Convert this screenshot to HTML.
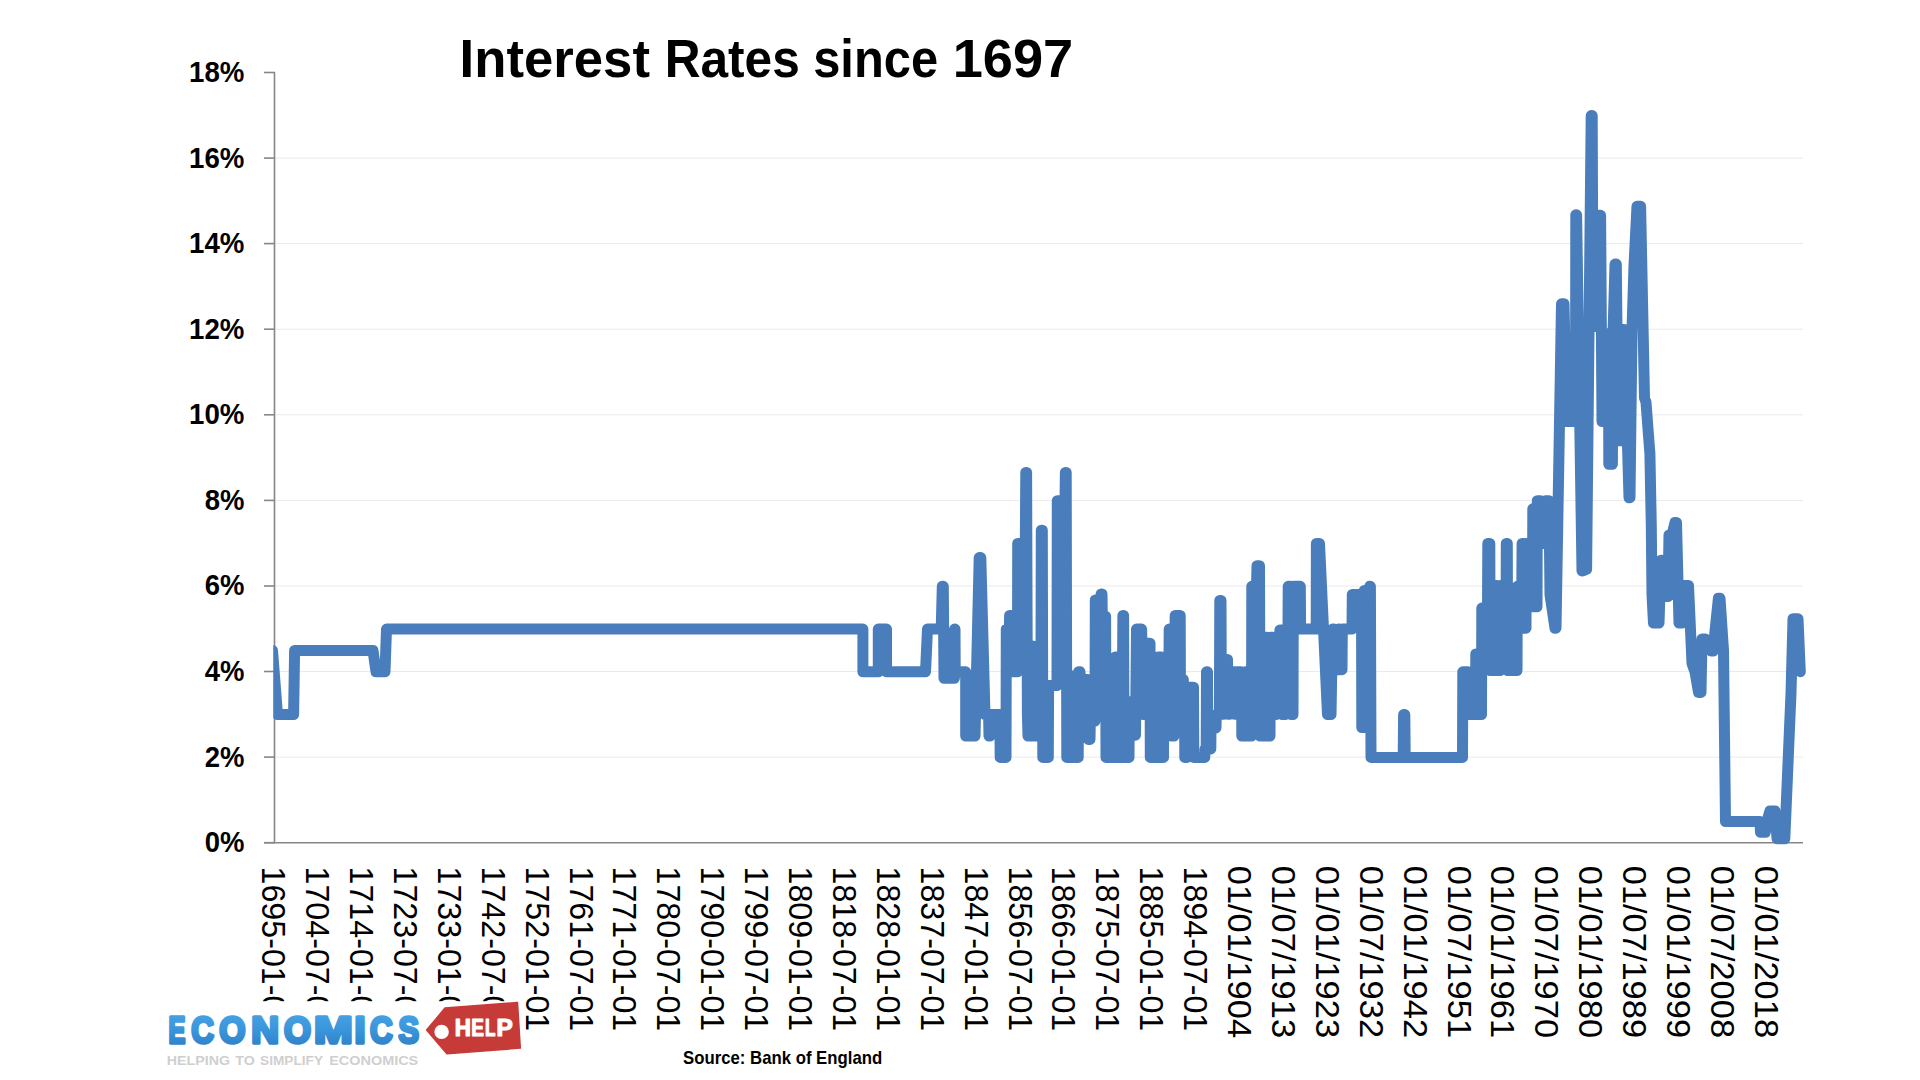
<!DOCTYPE html>
<html><head><meta charset="utf-8"><title>Interest Rates since 1697</title><style>
html,body{margin:0;padding:0;background:#fff;}
body{width:1920px;height:1080px;overflow:hidden;position:relative;}
svg{position:absolute;left:0;top:0;}
</style></head><body>
<svg width="1920" height="1080" viewBox="0 0 1920 1080">
<rect width="1920" height="1080" fill="#fff"/>
<g stroke="#eaeaec" stroke-width="1"><line x1="275" y1="757.1" x2="1803" y2="757.1"/><line x1="275" y1="671.5" x2="1803" y2="671.5"/><line x1="275" y1="586.0" x2="1803" y2="586.0"/><line x1="275" y1="500.4" x2="1803" y2="500.4"/><line x1="275" y1="414.8" x2="1803" y2="414.8"/><line x1="275" y1="329.2" x2="1803" y2="329.2"/><line x1="275" y1="243.6" x2="1803" y2="243.6"/><line x1="275" y1="158.1" x2="1803" y2="158.1"/></g>
<g stroke="#868686" stroke-width="1.6"><line x1="264" y1="842.7" x2="275" y2="842.7"/><line x1="264" y1="757.1" x2="275" y2="757.1"/><line x1="264" y1="671.5" x2="275" y2="671.5"/><line x1="264" y1="586.0" x2="275" y2="586.0"/><line x1="264" y1="500.4" x2="275" y2="500.4"/><line x1="264" y1="414.8" x2="275" y2="414.8"/><line x1="264" y1="329.2" x2="275" y2="329.2"/><line x1="264" y1="243.6" x2="275" y2="243.6"/><line x1="264" y1="158.1" x2="275" y2="158.1"/><line x1="264" y1="72.5" x2="275" y2="72.5"/><line x1="274.5" y1="72.4" x2="274.5" y2="842.7"/><line x1="264" y1="842.7" x2="1803" y2="842.7"/></g>
<clipPath id="pc"><rect x="273.3" y="60" width="1560" height="800"/></clipPath>
<polyline clip-path="url(#pc)" points="272.5,650.1 277.5,714.3 293.6,714.3 294.6,650.1 373.0,650.1 376.0,671.5 385.0,671.5 386.5,628.8 862.9,628.8 862.9,671.5 878.3,671.5 878.3,628.8 886.5,628.8 886.5,671.5 925.5,671.5 927.5,628.8 941.2,628.8 942.3,586.0 943.3,586.0 944.0,678.0 954.4,678.0 954.6,628.8 955.0,628.8 955.2,671.5 965.7,671.5 965.7,735.7 975.0,735.7 979.2,557.3 980.8,557.3 985.0,714.3 988.6,714.3 989.0,735.7 990.0,735.7 990.4,714.3 999.8,714.3 1000.2,757.1 1006.0,757.1 1006.3,628.8 1009.4,628.8 1009.6,615.1 1011.5,615.1 1011.8,671.5 1017.5,671.5 1017.7,543.2 1025.3,543.2 1025.8,472.1 1026.6,472.1 1027.4,714.3 1028.0,735.7 1032.5,735.7 1032.8,645.9 1034.0,645.9 1034.3,735.7 1040.8,735.7 1041.3,529.9 1042.3,529.9 1042.8,757.1 1048.3,757.1 1048.6,685.2 1057.0,685.2 1057.3,500.4 1065.0,500.4 1065.4,472.1 1066.2,472.1 1066.8,757.1 1071.0,757.1 1071.3,675.8 1072.5,675.8 1072.8,757.1 1078.2,757.1 1078.5,671.5 1080.0,671.5 1080.5,679.2 1088.0,679.2 1088.4,739.1 1090.0,739.1 1090.3,720.7 1095.0,720.7 1095.3,599.7 1100.8,599.7 1101.1,593.7 1102.0,593.7 1102.3,615.9 1105.6,615.9 1106.0,757.1 1109.0,757.1 1109.3,675.8 1112.0,675.8 1112.3,757.1 1115.0,757.1 1115.3,656.6 1118.5,656.6 1118.8,757.1 1120.5,757.1 1120.8,656.6 1122.6,656.6 1122.9,615.1 1123.6,615.1 1124.0,757.1 1129.0,757.1 1129.3,701.5 1131.5,701.5 1131.8,734.9 1135.5,734.9 1136.5,628.8 1141.6,628.8 1141.9,642.9 1143.0,642.9 1143.3,714.3 1145.5,714.3 1145.8,642.9 1150.0,642.9 1150.3,757.1 1152.0,757.1 1152.3,656.6 1155.0,656.6 1155.3,757.1 1158.0,757.1 1158.3,656.6 1161.0,656.6 1161.3,757.1 1163.5,757.1 1163.8,656.6 1169.0,656.6 1169.2,628.8 1171.0,628.8 1171.3,735.7 1174.0,735.7 1174.3,628.8 1175.0,628.8 1175.2,615.1 1180.2,615.1 1180.4,679.2 1183.3,679.2 1183.5,686.9 1184.5,686.9 1184.8,757.1 1187.0,757.1 1187.3,686.9 1193.5,686.9 1193.8,757.1 1204.8,757.1 1205.0,748.6 1206.2,748.6 1206.5,671.5 1207.5,671.5 1207.8,748.6 1210.8,748.6 1211.0,727.6 1216.0,727.6 1216.3,714.3 1219.4,714.3 1219.8,600.1 1221.0,600.1 1221.4,713.9 1224.0,713.9 1224.3,659.1 1227.5,659.1 1227.8,713.9 1230.0,713.9 1230.3,671.5 1234.0,671.5 1234.3,713.9 1236.0,713.9 1236.3,671.5 1241.5,671.5 1241.8,735.7 1245.0,735.7 1245.3,671.5 1246.5,671.5 1246.8,735.7 1251.5,735.7 1251.8,586.0 1256.5,586.0 1257.0,565.4 1259.5,565.4 1260.0,735.7 1264.0,735.7 1264.3,636.9 1267.0,636.9 1267.3,735.7 1270.0,735.7 1270.3,636.9 1273.0,636.9 1273.3,714.3 1276.0,714.3 1276.3,636.9 1279.6,636.9 1279.9,629.6 1282.0,629.6 1282.3,714.3 1285.0,714.3 1285.3,629.6 1288.0,629.6 1288.2,586.0 1291.0,586.0 1291.3,714.3 1293.0,714.3 1293.3,586.0 1300.3,586.0 1300.6,628.8 1316.2,628.8 1316.4,543.2 1319.5,543.2 1327.5,714.3 1331.0,714.3 1332.5,628.8 1334.0,628.8 1334.5,669.4 1338.0,669.4 1338.3,628.8 1339.5,628.8 1339.8,669.4 1342.0,669.4 1342.3,628.8 1352.0,628.8 1352.3,594.1 1361.5,594.1 1361.8,727.2 1364.0,727.2 1364.3,590.2 1369.4,590.2 1369.7,586.0 1370.4,586.0 1371.0,757.1 1403.2,757.1 1403.6,714.3 1404.8,714.3 1405.2,757.1 1462.5,757.1 1462.8,671.5 1468.0,671.5 1468.3,714.3 1475.5,714.3 1475.8,653.6 1478.0,653.6 1478.3,714.3 1481.5,714.3 1481.8,607.8 1487.5,607.8 1487.8,543.2 1489.8,543.2 1490.1,670.3 1493.5,670.3 1493.8,585.1 1497.0,585.1 1497.3,670.3 1500.0,670.3 1500.3,585.1 1503.0,585.1 1503.3,648.0 1506.0,648.0 1506.3,543.2 1507.3,543.2 1507.6,670.3 1511.0,670.3 1511.3,594.5 1514.0,594.5 1514.3,670.3 1517.0,670.3 1517.3,586.0 1521.8,586.0 1522.1,543.2 1523.5,543.2 1523.8,627.9 1526.0,627.9 1526.3,543.2 1530.0,543.2 1530.3,606.5 1532.5,606.5 1532.8,508.5 1535.0,508.5 1535.3,606.5 1537.0,606.5 1537.3,500.4 1540.5,500.4 1540.8,543.2 1545.0,543.2 1545.3,500.4 1549.0,500.4 1550.0,594.5 1555.0,627.9 1556.0,627.9 1561.5,303.5 1564.0,303.5 1566.5,421.2 1575.5,421.2 1575.8,214.5 1576.6,214.5 1582.0,570.6 1582.5,570.6 1586.6,568.8 1591.2,115.3 1592.2,115.3 1593.0,326.2 1597.0,326.2 1598.0,215.0 1600.6,215.0 1602.0,421.2 1604.0,421.2 1604.5,333.5 1608.5,333.5 1608.8,464.0 1612.4,464.0 1613.0,333.5 1615.0,263.8 1616.3,263.8 1617.0,329.2 1620.0,440.5 1621.0,329.2 1624.3,329.2 1626.0,393.4 1629.0,497.4 1630.0,497.4 1632.0,329.2 1634.0,265.0 1637.0,206.0 1640.6,206.0 1644.5,397.7 1646.0,402.0 1649.9,453.3 1651.3,526.1 1652.0,594.5 1653.5,622.8 1659.0,622.8 1661.0,559.9 1662.0,559.9 1664.0,596.2 1668.0,596.2 1669.0,534.6 1672.0,534.6 1675.0,522.2 1676.5,522.2 1679.0,622.8 1682.0,622.8 1684.0,585.1 1688.5,585.1 1692.0,663.0 1695.0,671.5 1698.5,692.1 1701.0,692.1 1702.0,638.6 1705.0,638.6 1707.0,645.9 1711.0,650.6 1713.0,650.6 1718.4,597.9 1720.0,597.9 1723.5,650.1 1725.5,821.3 1760.0,821.3 1760.5,832.0 1765.3,832.0 1767.5,819.2 1769.9,810.6 1775.0,810.6 1777.0,838.4 1784.8,838.4 1791.0,692.9 1793.0,618.5 1798.0,618.5 1800.3,671.5" fill="none" stroke="#4a7dbb" stroke-width="11" transform="translate(0,0.3)" stroke-linejoin="round" stroke-linecap="round"/>
<g font-family="Liberation Sans" font-weight="bold" font-size="29" text-anchor="end" fill="#000"><text x="244.4" y="852.1" textLength="39.7" lengthAdjust="spacingAndGlyphs">0%</text><text x="244.4" y="766.5" textLength="39.7" lengthAdjust="spacingAndGlyphs">2%</text><text x="244.4" y="680.9" textLength="39.7" lengthAdjust="spacingAndGlyphs">4%</text><text x="244.4" y="595.4" textLength="39.7" lengthAdjust="spacingAndGlyphs">6%</text><text x="244.4" y="509.8" textLength="39.7" lengthAdjust="spacingAndGlyphs">8%</text><text x="244.4" y="424.2" textLength="55.3" lengthAdjust="spacingAndGlyphs">10%</text><text x="244.4" y="338.6" textLength="55.3" lengthAdjust="spacingAndGlyphs">12%</text><text x="244.4" y="253.0" textLength="55.3" lengthAdjust="spacingAndGlyphs">14%</text><text x="244.4" y="167.5" textLength="55.3" lengthAdjust="spacingAndGlyphs">16%</text><text x="244.4" y="81.9" textLength="55.3" lengthAdjust="spacingAndGlyphs">18%</text></g>
<g font-family="Liberation Sans" font-size="33" fill="#000"><text transform="translate(262.2,866.55) rotate(90)" textLength="164.7" lengthAdjust="spacingAndGlyphs">1695-01-01</text><text transform="translate(306.1,866.55) rotate(90)" textLength="164.7" lengthAdjust="spacingAndGlyphs">1704-07-01</text><text transform="translate(350.0,866.55) rotate(90)" textLength="164.7" lengthAdjust="spacingAndGlyphs">1714-01-01</text><text transform="translate(393.9,866.55) rotate(90)" textLength="164.7" lengthAdjust="spacingAndGlyphs">1723-07-01</text><text transform="translate(437.8,866.55) rotate(90)" textLength="164.7" lengthAdjust="spacingAndGlyphs">1733-01-01</text><text transform="translate(481.7,866.55) rotate(90)" textLength="164.7" lengthAdjust="spacingAndGlyphs">1742-07-01</text><text transform="translate(525.6,866.55) rotate(90)" textLength="164.7" lengthAdjust="spacingAndGlyphs">1752-01-01</text><text transform="translate(569.5,866.55) rotate(90)" textLength="164.7" lengthAdjust="spacingAndGlyphs">1761-07-01</text><text transform="translate(613.4,866.55) rotate(90)" textLength="164.7" lengthAdjust="spacingAndGlyphs">1771-01-01</text><text transform="translate(657.3,866.55) rotate(90)" textLength="164.7" lengthAdjust="spacingAndGlyphs">1780-07-01</text><text transform="translate(701.2,866.55) rotate(90)" textLength="164.7" lengthAdjust="spacingAndGlyphs">1790-01-01</text><text transform="translate(745.1,866.55) rotate(90)" textLength="164.7" lengthAdjust="spacingAndGlyphs">1799-07-01</text><text transform="translate(789.0,866.55) rotate(90)" textLength="164.7" lengthAdjust="spacingAndGlyphs">1809-01-01</text><text transform="translate(832.9,866.55) rotate(90)" textLength="164.7" lengthAdjust="spacingAndGlyphs">1818-07-01</text><text transform="translate(876.8,866.55) rotate(90)" textLength="164.7" lengthAdjust="spacingAndGlyphs">1828-01-01</text><text transform="translate(920.7,866.55) rotate(90)" textLength="164.7" lengthAdjust="spacingAndGlyphs">1837-07-01</text><text transform="translate(964.6,866.55) rotate(90)" textLength="164.7" lengthAdjust="spacingAndGlyphs">1847-01-01</text><text transform="translate(1008.5,866.55) rotate(90)" textLength="164.7" lengthAdjust="spacingAndGlyphs">1856-07-01</text><text transform="translate(1052.4,866.55) rotate(90)" textLength="164.7" lengthAdjust="spacingAndGlyphs">1866-01-01</text><text transform="translate(1096.3,866.55) rotate(90)" textLength="164.7" lengthAdjust="spacingAndGlyphs">1875-07-01</text><text transform="translate(1140.2,866.55) rotate(90)" textLength="164.7" lengthAdjust="spacingAndGlyphs">1885-01-01</text><text transform="translate(1184.1,866.55) rotate(90)" textLength="164.7" lengthAdjust="spacingAndGlyphs">1894-07-01</text><text transform="translate(1228.0,865.75) rotate(90)" textLength="172.3" lengthAdjust="spacingAndGlyphs">01/01/1904</text><text transform="translate(1271.9,865.75) rotate(90)" textLength="172.3" lengthAdjust="spacingAndGlyphs">01/07/1913</text><text transform="translate(1315.8,865.75) rotate(90)" textLength="172.3" lengthAdjust="spacingAndGlyphs">01/01/1923</text><text transform="translate(1359.7,865.75) rotate(90)" textLength="172.3" lengthAdjust="spacingAndGlyphs">01/07/1932</text><text transform="translate(1403.6,865.75) rotate(90)" textLength="172.3" lengthAdjust="spacingAndGlyphs">01/01/1942</text><text transform="translate(1447.5,865.75) rotate(90)" textLength="172.3" lengthAdjust="spacingAndGlyphs">01/07/1951</text><text transform="translate(1491.4,865.75) rotate(90)" textLength="172.3" lengthAdjust="spacingAndGlyphs">01/01/1961</text><text transform="translate(1535.3,865.75) rotate(90)" textLength="172.3" lengthAdjust="spacingAndGlyphs">01/07/1970</text><text transform="translate(1579.2,865.75) rotate(90)" textLength="172.3" lengthAdjust="spacingAndGlyphs">01/01/1980</text><text transform="translate(1623.1,865.75) rotate(90)" textLength="172.3" lengthAdjust="spacingAndGlyphs">01/07/1989</text><text transform="translate(1667.0,865.75) rotate(90)" textLength="172.3" lengthAdjust="spacingAndGlyphs">01/01/1999</text><text transform="translate(1710.9,865.75) rotate(90)" textLength="172.3" lengthAdjust="spacingAndGlyphs">01/07/2008</text><text transform="translate(1754.8,865.75) rotate(90)" textLength="172.3" lengthAdjust="spacingAndGlyphs">01/01/2018</text></g>
<g font-family="Liberation Sans" font-weight="bold" font-size="54.5" fill="#000"><text x="459.57" y="76.8" textLength="190.37" lengthAdjust="spacingAndGlyphs">Interest</text><text x="664.68" y="76.8" textLength="135.05" lengthAdjust="spacingAndGlyphs">Rates</text><text x="813.18" y="76.8" textLength="124.89" lengthAdjust="spacingAndGlyphs">since</text><text x="952.69" y="76.8" textLength="120.49" lengthAdjust="spacingAndGlyphs">1697</text></g>
<text x="683.12" y="1063.8" font-family="Liberation Sans" font-weight="bold" font-size="18.6" textLength="199.04" lengthAdjust="spacingAndGlyphs" fill="#000">Source: Bank of England</text>
<rect x="150" y="1001.2" width="373" height="79" fill="#fff"/>
<defs><linearGradient id="bg" x1="0" y1="0" x2="0" y2="1"><stop offset="0" stop-color="#48a6e6"/><stop offset="0.55" stop-color="#3993d9"/><stop offset="1" stop-color="#2b7cc4"/></linearGradient></defs>
<g font-family="Liberation Sans" font-weight="bold" font-size="37.1" fill="url(#bg)" stroke="url(#bg)" stroke-width="3.4" stroke-linejoin="round"><text x="168.41" y="1042.9" textLength="16.88" lengthAdjust="spacingAndGlyphs">E</text><text x="191.31" y="1042.9" textLength="22.64" lengthAdjust="spacingAndGlyphs">C</text><text x="219.32" y="1042.9" textLength="26.20" lengthAdjust="spacingAndGlyphs">O</text><text x="251.23" y="1042.9" textLength="27.76" lengthAdjust="spacingAndGlyphs">N</text><text x="283.98" y="1042.9" textLength="26.98" lengthAdjust="spacingAndGlyphs">O</text><text x="314.00" y="1042.9" textLength="38.60" lengthAdjust="spacingAndGlyphs">M</text><text x="354.55" y="1042.9" textLength="10.99" lengthAdjust="spacingAndGlyphs">I</text><text x="369.91" y="1042.9" textLength="22.64" lengthAdjust="spacingAndGlyphs">C</text><text x="398.52" y="1042.9" textLength="20.48" lengthAdjust="spacingAndGlyphs">S</text></g>
<g font-family="Liberation Sans" font-weight="bold" font-size="12.8" fill="#cfcfcf"><text x="166.75" y="1065" textLength="63.34" lengthAdjust="spacingAndGlyphs">HELPING</text><text x="235.24" y="1065" textLength="19.55" lengthAdjust="spacingAndGlyphs">TO</text><text x="260.01" y="1065" textLength="63.11" lengthAdjust="spacingAndGlyphs">SIMPLIFY</text><text x="329.23" y="1065" textLength="89.03" lengthAdjust="spacingAndGlyphs">ECONOMICS</text></g>
<path d="M426.6,1030 L445,1008.1 L517.5,1002.5 L520.3,1048.1 L446.9,1053.75 Z" fill="#c63b38" stroke="#c63b38" stroke-width="1.5" stroke-linejoin="round"/>
<circle cx="441.6" cy="1031.9" r="7.2" fill="#fff"/>
<g font-family="Liberation Sans" font-weight="bold" font-size="23.5" fill="#fff" stroke="#fff" stroke-width="1.2" stroke-linejoin="round"><text x="454.70" y="1036.3" textLength="16.21" lengthAdjust="spacingAndGlyphs">H</text><text x="471.23" y="1036.3" textLength="12.66" lengthAdjust="spacingAndGlyphs">E</text><text x="485.05" y="1036.3" textLength="10.47" lengthAdjust="spacingAndGlyphs">L</text><text x="496.47" y="1036.3" textLength="16.26" lengthAdjust="spacingAndGlyphs">P</text></g>
</svg>
</body></html>
